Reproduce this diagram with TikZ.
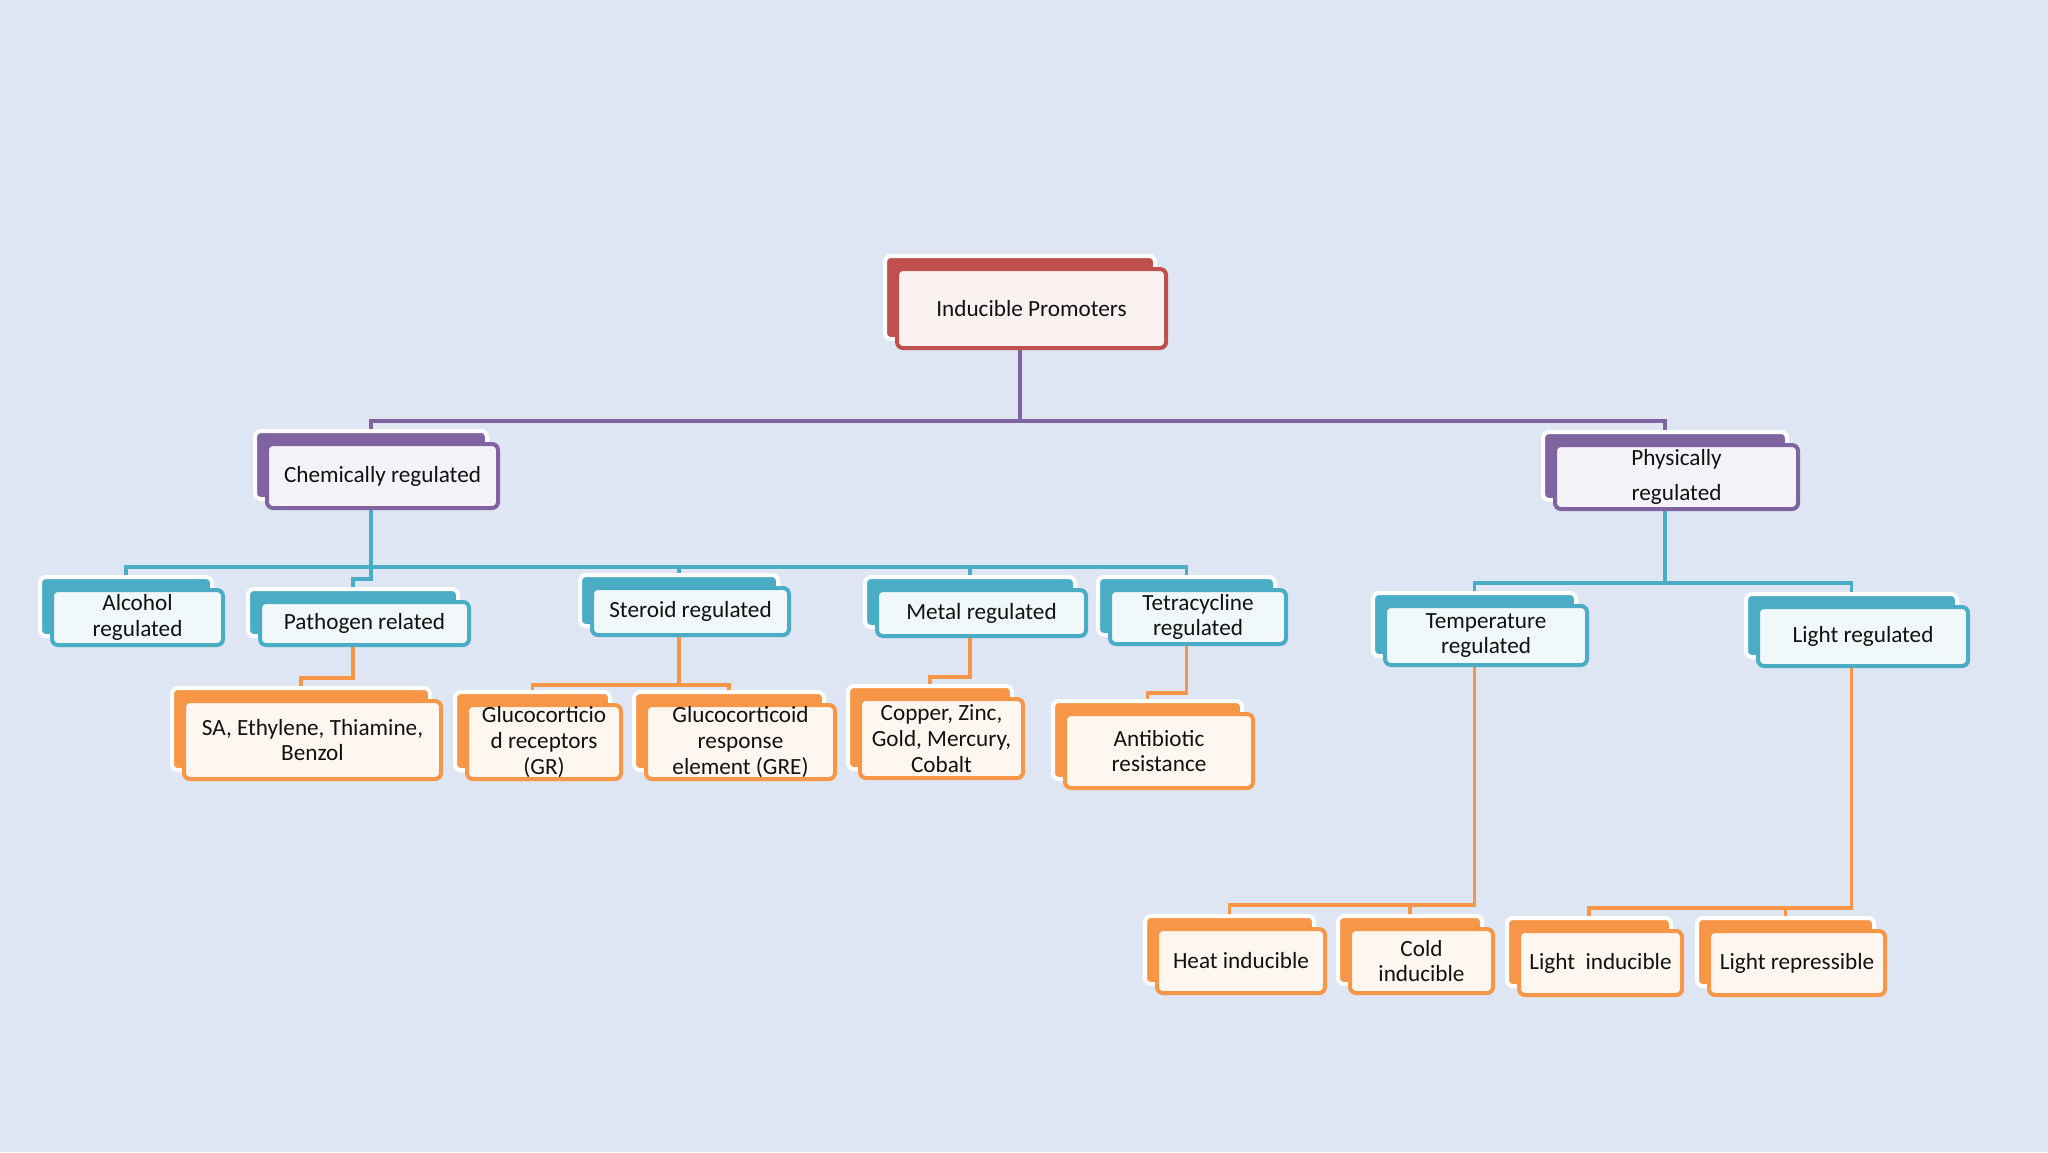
\documentclass[tikz,border=0pt]{standalone}
\usepackage{fontspec}
\setmainfont{Carlito}
\usepackage{tikz}
\usetikzlibrary{
  arrows.meta,
  positioning,
  calc,
  fit,
  backgrounds
}
\definecolor{FigText}{HTML}{111111}
\definecolor{FigBg}{HTML}{DDE6F2}
\definecolor{FigRed}{HTML}{C0504D}
\definecolor{FigPurple}{HTML}{8064A2}
\definecolor{FigBlue}{HTML}{4BACC6}
\definecolor{FigOrange}{HTML}{F79646}

\begin{document}
\begin{tikzpicture}[
x=0.5pt, y=-0.5pt,
font=\fontsize{11.6}{12.8}\selectfont,
front/.style={
draw=#1,
line width=2pt,
fill=#1!8!white,
rounded corners=3pt,
inner sep=0pt,
align=center
},
back/.style={
draw=white,
line width=2pt,
fill=#1,
rounded corners=3pt,
inner sep=0pt
},
link/.style={draw=#1, line width=1.8pt},
every node/.style={text=FigText}
]
\useasboundingbox (0,0) rectangle (2048,1152);

% Top box
\node[front=FigRed, minimum width=134.5pt, minimum height=39.5pt] (root) at (1031.5,308.5) {Inducible Promoters};

% Two main groups
\node[front=FigPurple, minimum width=115.5pt, minimum height=32pt] (chem) at (382.5,476) {Chemically regulated};
\node[front=FigPurple, minimum width=121.5pt, minimum height=32pt] (phys) at (1676.5,477) {Physically\\[5pt]regulated};

% Chemical classes
\node[front=FigBlue, minimum width=85.5pt, minimum height=27.5pt] (alc) at (137.5,617.5) {Alcohol\\regulated};
\node[front=FigBlue, minimum width=104.5pt, minimum height=21.5pt] (path) at (364.5,623.5) {Pathogen related};
\node[front=FigBlue, minimum width=98.5pt, minimum height=23.5pt] (steroid) at (690.5,611.5) {Steroid regulated};
\node[front=FigBlue, minimum width=104.5pt, minimum height=23pt] (metal) at (981.5,613) {Metal regulated};
\node[front=FigBlue, minimum width=88pt, minimum height=27pt] (tetra) at (1198,617) {Tetracycline\\regulated};

% Physical classes
\node[front=FigBlue, minimum width=101pt, minimum height=29.5pt] (temp) at (1486,635.5) {Temperature\\regulated};
\node[front=FigBlue, minimum width=105pt, minimum height=29.5pt] (light) at (1863,636.5) {Light regulated};

% Inducers under the chemical classes
\node[front=FigOrange, minimum width=128.5pt, minimum height=39pt] (sa) at (312.5,740) {SA, Ethylene, Thiamine,\\Benzol};
\node[front=FigOrange, minimum width=77pt, minimum height=37pt] (gr) at (544,742) {Glucocorticio\\d receptors\\(GR)};
\node[front=FigOrange, minimum width=94.5pt, minimum height=37pt] (gre) at (740.5,742) {Glucocorticoid\\response\\element (GRE)};
\node[front=FigOrange, minimum width=81.5pt, minimum height=39.5pt] (copper) at (941.5,738.5) {Copper, Zinc,\\Gold, Mercury,\\Cobalt};
\node[front=FigOrange, minimum width=94pt, minimum height=37pt] (anti) at (1159,751) {Antibiotic\\resistance};

% Inducers under the physical classes
\node[front=FigOrange, minimum width=84pt, minimum height=32pt] (heat) at (1241,961) {Heat inducible};
\node[front=FigOrange, minimum width=71.5pt, minimum height=32pt] (cold) at (1421.5,961) {Cold\\inducible};
\node[front=FigOrange, minimum width=81.5pt, minimum height=32pt] (lind) at (1600.5,963) {Light\ \ inducible};
\node[front=FigOrange, minimum width=88pt, minimum height=32pt] (lrep) at (1797,963) {Light repressible};

\begin{scope}[on background layer]
\fill[FigBg] (0,0) rectangle (2048,1152);

% Shadow cards behind every box
\foreach \n/\c in {root/FigRed, chem/FigPurple, phys/FigPurple,
  alc/FigBlue, path/FigBlue, steroid/FigBlue, metal/FigBlue, tetra/FigBlue,
  temp/FigBlue, light/FigBlue,
  sa/FigOrange, gr/FigOrange, gre/FigOrange, copper/FigOrange, anti/FigOrange,
  heat/FigOrange, cold/FigOrange, lind/FigOrange, lrep/FigOrange}
  \node[back=\c, fit={($(\n.north west)+(-10,-11)$) ($(\n.south east)+(-13,-11)$)}] (\n-bk) {};

% Bus levels
\coordinate (busroot) at (0,421);
\coordinate (buschem) at (0,567);
\coordinate (busphys) at (0,583);
\coordinate (buspath) at (0,678);
\coordinate (bussteroid) at (0,685);
\coordinate (busmetal) at (0,677);
\coordinate (bustetra) at (0,693);
\coordinate (bustemp) at (0,905);
\coordinate (buslight) at (0,908);

% Connectors
\draw[link=FigPurple] (root-bk.south) -- (root-bk.south |- busroot) -| (chem-bk.north);
\draw[link=FigPurple] (root-bk.south |- busroot) -| (phys-bk.north);

\draw[link=FigBlue] (chem-bk.south) -- (chem-bk.south |- buschem);
\draw[link=FigBlue] (alc-bk.north) |- (tetra-bk.north |- buschem) -- (tetra-bk.north);
\draw[link=FigBlue] (steroid-bk.north) -- (steroid-bk.north |- buschem);
\draw[link=FigBlue] (metal-bk.north) -- (metal-bk.north |- buschem);
\draw[link=FigBlue] (chem-bk.south |- buschem) -- ++(0,12) -| (path-bk.north);

\draw[link=FigBlue] (phys-bk.south) -- (phys-bk.south |- busphys);
\draw[link=FigBlue] (temp-bk.north) |- (light-bk.north |- busphys) -- (light-bk.north);

\draw[link=FigOrange] (path-bk.south) |- (sa-bk.north |- buspath) -- (sa-bk.north);
\draw[link=FigOrange] (steroid-bk.south) -- (steroid-bk.south |- bussteroid);
\draw[link=FigOrange] (gr-bk.north) |- (gre-bk.north |- bussteroid) -- (gre-bk.north);
\draw[link=FigOrange] (metal-bk.south) |- (copper-bk.north |- busmetal) -- (copper-bk.north);
\draw[link=FigOrange] (tetra-bk.south) |- (anti-bk.north |- bustetra) -- (anti-bk.north);

\draw[link=FigOrange] (temp-bk.south) |- (heat-bk.north |- bustemp) -- (heat-bk.north);
\draw[link=FigOrange] (cold-bk.north) -- (cold-bk.north |- bustemp);
\draw[link=FigOrange] (light-bk.south) |- (lind-bk.north |- buslight) -- (lind-bk.north);
\draw[link=FigOrange] (lrep-bk.north) -- (lrep-bk.north |- buslight);
\end{scope}

\end{tikzpicture}
\end{document}
